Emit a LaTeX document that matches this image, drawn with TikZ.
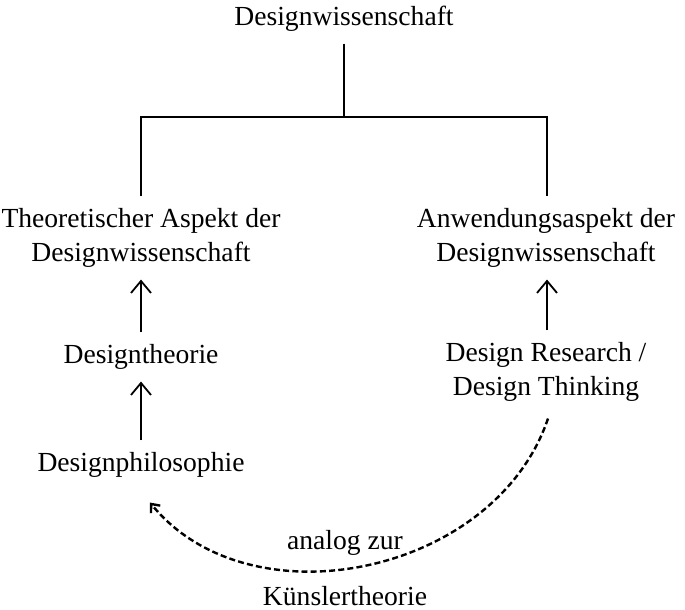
\documentclass[tikz,border=0pt]{standalone}
\usepackage{fontspec}
\setmainfont{Liberation Serif}
\usepackage{tikz}
\usetikzlibrary{arrows.meta}
\tikzset{
  term/.style={align=center, inner sep=6pt, outer sep=0pt},
  branch/.style={line width=0.9pt},
  uparrow/.style={-{Straight Barb[length=6pt,width=10pt]}, line width=0.9pt},
  analog/.style={dash pattern=on 3pt off 1.6pt, line width=1.2pt, -{Straight Barb[length=3.5pt,width=6pt]}}
}

\begin{document}
\begin{tikzpicture}[x=0.5pt, y=-0.5pt, font=\fontsize{13.8}{17}\selectfont]
  \useasboundingbox (0,0) rectangle (685,610);

  \node[term] (dw) at (344,19) {Designwissenschaft};
  \node[term] (theo) at (141,238) {Theoretischer Aspekt der\\Designwissenschaft};
  \node[term] (anw) at (546,238) {Anwendungsaspekt der\\Designwissenschaft};
  \node[term] (dt) at (141,357) {Designtheorie};
  \node[term] (dr) at (546,372) {Design Research /\\Design Thinking};
  \node[term] (dp) at (141,465) {Designphilosophie};
  \node[term] (an) at (345,543) {analog zur};
  \node[term] (kt) at (345,596) {Künslertheorie};

  % tree
  \coordinate (split) at (344,117);
  \draw[branch] (dw) -- (split);
  \draw[branch] (theo.north) |- (split) -| ([xshift=0.5pt]anw.north);

  \draw[uparrow] (dt) -- (theo);
  \draw[uparrow] (dp) -- (dt);
  \draw[uparrow] ([xshift=0.5pt]dr.north) -- ([xshift=0.5pt]anw.south);

  \draw[analog] ([xshift=1pt,yshift=-2.5pt]dr.south) .. controls (495,575) and (250,625) .. ([xshift=4.5pt,yshift=-6.5pt]dp.south);
\end{tikzpicture}
\end{document}
